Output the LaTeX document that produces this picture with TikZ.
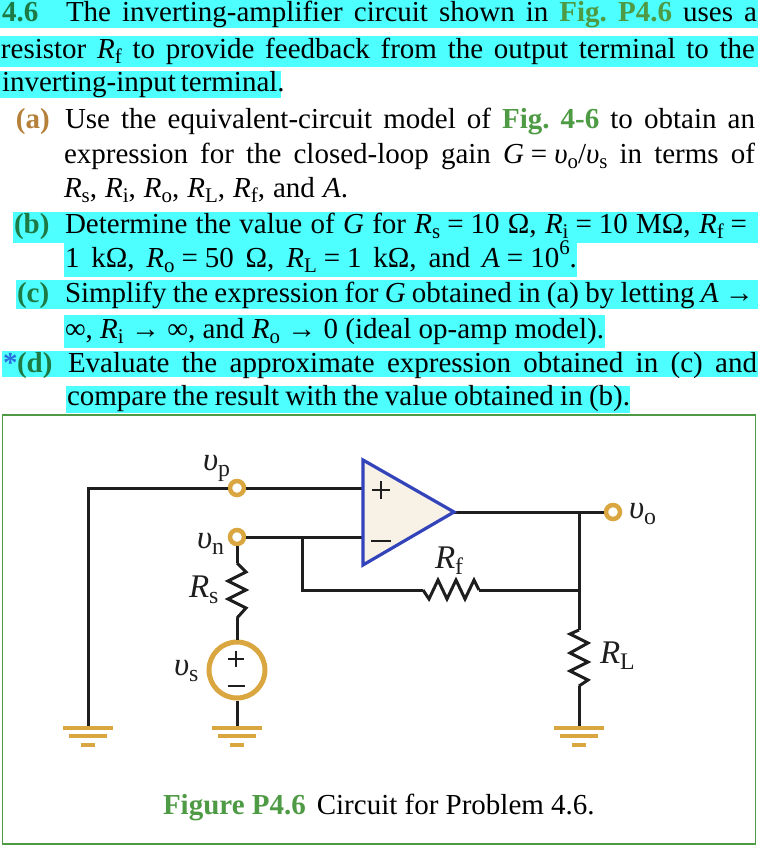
\documentclass[tikz,border=0pt]{standalone}
\usepackage{fontspec}
\setmainfont{Liberation Serif}
\frenchspacing
\definecolor{hl}{HTML}{4DFFFF}
\definecolor{figgreen}{HTML}{4F9A45}
\definecolor{labgreen}{HTML}{1E7A45}
\definecolor{labbrown}{HTML}{B5813A}
\definecolor{starblue}{HTML}{2A6FE0}
\definecolor{wirecol}{HTML}{1E1E1E}
\definecolor{gold}{HTML}{D9A63F}
\definecolor{opblue}{HTML}{3344BB}
\definecolor{opfill}{HTML}{F8F2E6}
\newcommand\sbs[1]{\raisebox{-0.2em}{\scalebox{0.72}{#1}}}
\newcommand\RR[1]{\textit{R}\sbs{#1}}
\newcommand\VV[1]{\textit{υ}\sbs{#1}}
\newcommand\tline[5]{\node[txt] (#1) at (#2,#3) {\resizebox{#4pt}{\height}{\makebox[#4pt][s]{#5}}};}
\newcommand\lab[5]{\node[txt,text=#4] (#1) at (#2,#3) {\bfseries #5};}
\newcommand\figref[1]{\textcolor{figgreen}{\bfseries #1}}
\newcommand\eqs{\hspace{0.24em}=\hspace{0.24em}}
\tikzset{
  txt/.style={anchor=base west,inner sep=0pt,outer sep=0pt,font=\fontsize{29}{31}\selectfont,text=black},
  wire/.style={draw=wirecol,line width=3pt,line join=miter},
  band/.style={fill=hl,draw=none},
  gbar/.style={draw=gold,line width=4.5pt},
  term/.style={circle,draw=gold,fill=white,line width=4.5pt,minimum size=14pt,inner sep=0pt},
  src/.style={circle,draw=gold,fill=white,line width=5pt,minimum size=56pt,inner sep=0pt},
  clab/.style={anchor=base west,inner sep=0pt,outer sep=0pt,font=\fontsize{33}{35}\selectfont,text=wirecol},
  sign/.style={draw=wirecol,line width=2.6pt},
}
\begin{document}
\begin{tikzpicture}[x=1pt,y=-1pt]
\useasboundingbox (0,0) rectangle (758,849);
% highlights
\fill[band] (0,0) rectangle (758,28);
\fill[band] (0,36) rectangle (758,67);
\fill[band] (0,71) rectangle (281,98);
\fill[band] (13,212) rectangle (758,243);
\fill[band] (64,243) rectangle (577,277);
\fill[band] (16,280) rectangle (758,309);
\fill[band] (64,315) rectangle (605,348);
\fill[band] (2,351) rectangle (758,377);
\fill[band] (66,386) rectangle (630,413);
% text
\lab{l46}{2}{21.5}{labgreen}{4.6}
\tline{l1}{66}{21.5}{691}{The inverting-amplifier circuit shown in \figref{Fig. P4.6} uses a}
\tline{l2}{1}{58}{754}{resistor \RR{f} to provide feedback from the output terminal to the}
\tline{l3}{2}{91}{276}{inverting-input terminal.}
\lab{la}{16}{128}{labbrown}{(a)}
\tline{l4}{65}{128}{690}{Use the equivalent-circuit model of \figref{Fig. 4-6} to obtain an}
\tline{l5}{64}{163}{691}{expression for the closed-loop gain \textit{G}\eqs\VV{o}/\VV{s} in terms of}
\tline{l6}{64}{197}{284}{\RR{s}, \RR{i}, \RR{o}, \RR{L}, \RR{f}, and \textit{A}.}
\lab{lb}{14}{233}{labgreen}{(b)}
\tline{l7}{65}{233}{689}{Determine the value of \textit{G} for \RR{s}\eqs 10 Ω, \RR{i}\eqs 10 MΩ, \RR{f}\eqs}
\tline{l8}{65}{267}{512}{1 kΩ, \RR{o}\eqs 50 Ω, \RR{L}\eqs 1 kΩ, and \textit{A}\eqs 10\raisebox{0.42em}{\scalebox{0.72}{6}}.}
\lab{lc}{17}{302}{labgreen}{(c)}
\tline{l9}{65}{302}{689}{Simplify the expression for \textit{G} obtained in (a) by letting \textit{A} →}
\tline{l10}{65}{338}{539}{∞, \RR{i} → ∞, and \RR{o} → 0 (ideal op-amp model).}
\node[txt,text=starblue] (lstar) at (3,372) {\bfseries *};
\lab{ld}{17}{372}{labgreen}{(d)}
\tline{l11}{68}{372}{689}{Evaluate the approximate expression obtained in (c) and}
\tline{l12}{67}{405}{563}{compare the result with the value obtained in (b).}
% frame
\node[draw=figgreen,line width=1.6pt,inner sep=0pt,minimum width=753pt,minimum height=429pt] (frame) at (379,629.5) {};
% coordinates
\coordinate (tl) at (88,488);
\coordinate (g1) at (88,726);
\node[term] (vp) at (237,488) {};
\node[term] (vn) at (237,537) {};
\node[term] (vo) at (613,512) {};
\node[src] (vsrc) at (237,670) {};
\coordinate (g2) at (237,726);
\coordinate (g3) at (579,726);
\coordinate (jn) at (302,537);
\coordinate (jf) at (302,590);
\coordinate (jo) at (579,512);
\coordinate (jr) at (579,590);
\coordinate (rsT) at (237,563);
\coordinate (rsB) at (237,618);
\coordinate (rfL) at (423,590);
\coordinate (rfR) at (479,590);
\coordinate (rlT) at (579,630);
\coordinate (rlB) at (579,686);
\coordinate (ip) at (363,488);
\coordinate (in) at (363,537);
\coordinate (tip) at (454,512);
% wires
\draw[wire] (vp) -- (ip);
\draw[wire] (vp) -- (tl) -- (g1);
\draw[wire] (vn) -- (in);
\draw[wire] (jn) -- (jf) -- (rfL);
\draw[wire] (rfR) -- (jr);
\draw[wire] (tip) -- (vo);
\draw[wire] (jo) -- (rlT);
\draw[wire] (rlB) -- (g3);
\draw[wire] (vn) -- (rsT);
\draw[wire] (rsB) -- (vsrc);
\draw[wire] (vsrc) -- (g2);
% resistors
\draw[wire] (rsT) -- ++(9,9) -- ++(-18,9) -- ++(18,9) -- ++(-18,9) -- ++(18,9) -- ++(-9,10);
\draw[wire] (rlT) -- ++(-9,4) -- ++(18,9) -- ++(-18,10) -- ++(18,9) -- ++(-18,9) -- ++(18,9) -- ++(-9,6);
\draw[wire] (rfL) -- ++(6,9) -- ++(9,-19) -- ++(9,19) -- ++(9,-19) -- ++(9,19) -- ++(9,-19) -- ++(5,10);
% op-amp
\node[draw=none,inner sep=0pt] (opamp) at (395,512) {};
\draw[draw=opblue,fill=opfill,line width=3.2pt,line join=miter] (363,460) -- (363,565) -- (tip) -- cycle;
\draw[sign] (372,490) -- (390,490);
\draw[sign] (381,481) -- (381,499);
\draw[sign] (371,541) -- (391,541);
% source signs
\draw[sign] (228,659) -- (244,659);
\draw[sign] (236,651) -- (236,667);
\draw[sign] (228,686) -- (245,686);
% grounds
\foreach \gx/\gn in {88/a,237/b,579/c}{
  \draw[gbar] (\gx-25,728) -- (\gx+25,728);
  \draw[gbar] (\gx-19,736) -- (\gx+19,736);
  \draw[gbar] (\gx-7,745) -- (\gx+7,745);
}
% circuit labels
\node[clab] (tvp) at (203,470) {\VV{p}};
\node[clab] (tvn) at (197,548) {\VV{n}};
\node[clab] (trs) at (189,597) {\RR{s}};
\node[clab] (tvs) at (174,675) {\VV{s}};
\node[clab] (trf) at (435,568) {\RR{f}};
\node[clab] (trl) at (600,663) {\RR{L}};
\node[clab] (tvo) at (629,518) {\VV{o}};
% caption
\node[txt] (cap) at (163,814.5) {\figref{Figure P4.6}\hspace{11pt}Circuit for Problem 4.6.};
\end{tikzpicture}
\end{document}
